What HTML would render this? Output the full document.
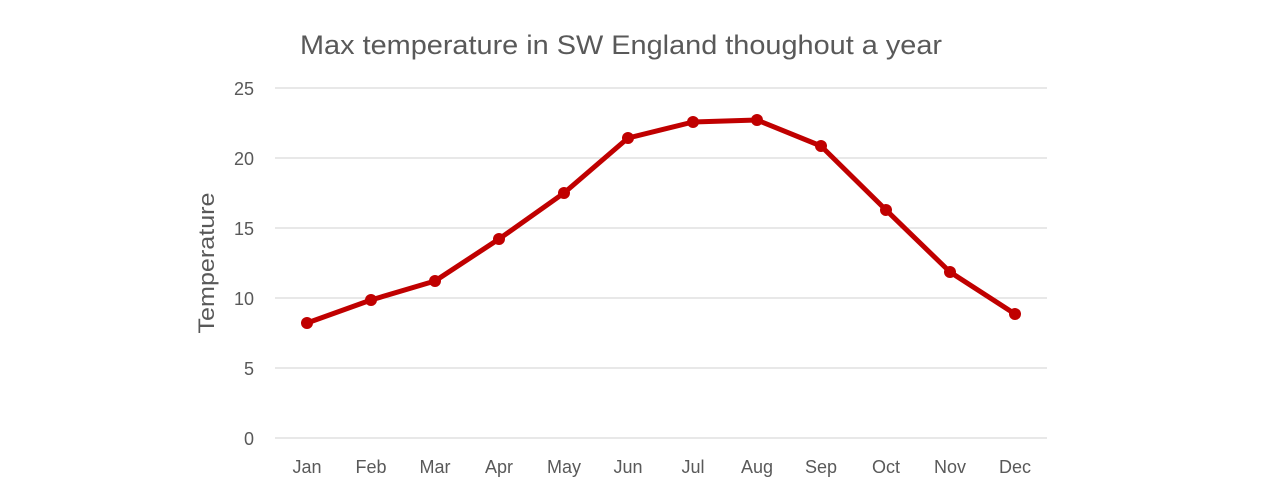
<!DOCTYPE html>
<html><head><style>
html,body{margin:0;padding:0;background:#fff;}
svg{display:block;font-family:"Liberation Sans",sans-serif;}
</style></head><body>
<svg width="1280" height="488" viewBox="0 0 1280 488" xmlns="http://www.w3.org/2000/svg">
<rect width="1280" height="488" fill="#fff"/>
<text x="621" y="54" text-anchor="middle" font-size="27" textLength="642" lengthAdjust="spacingAndGlyphs" fill="#595959">Max temperature in SW England thoughout a year</text>
<g stroke="#d9d9d9" stroke-width="1.3">
<line x1="275" x2="1047" y1="88" y2="88"/>
<line x1="275" x2="1047" y1="158" y2="158"/>
<line x1="275" x2="1047" y1="228" y2="228"/>
<line x1="275" x2="1047" y1="298" y2="298"/>
<line x1="275" x2="1047" y1="368" y2="368"/>
<line x1="275" x2="1047" y1="438" y2="438"/>
</g>
<g font-size="18" fill="#595959" text-anchor="end">
<text x="254" y="95">25</text>
<text x="254" y="165">20</text>
<text x="254" y="235">15</text>
<text x="254" y="305">10</text>
<text x="254" y="375">5</text>
<text x="254" y="445">0</text>
</g>
<text transform="translate(214,263) rotate(-90)" text-anchor="middle" font-size="22" textLength="141" lengthAdjust="spacingAndGlyphs" fill="#595959">Temperature</text>
<g font-size="18" fill="#595959" text-anchor="middle">
<text x="307" y="473">Jan</text><text x="371" y="473">Feb</text><text x="435" y="473">Mar</text>
<text x="499" y="473">Apr</text><text x="564" y="473">May</text><text x="628" y="473">Jun</text>
<text x="693" y="473">Jul</text><text x="757" y="473">Aug</text><text x="821" y="473">Sep</text>
<text x="886" y="473">Oct</text><text x="950" y="473">Nov</text><text x="1015" y="473">Dec</text>
</g>
<polyline fill="none" stroke="#c00000" stroke-width="5" stroke-linejoin="round" points="307,323 371,300 435,281 499,239 564,193 628,138 693,122 757,120 821,146 886,210 950,272 1015,314"/>
<g fill="#c00000">
<circle cx="307" cy="323" r="6"/><circle cx="371" cy="300" r="6"/><circle cx="435" cy="281" r="6"/>
<circle cx="499" cy="239" r="6"/><circle cx="564" cy="193" r="6"/><circle cx="628" cy="138" r="6"/>
<circle cx="693" cy="122" r="6"/><circle cx="757" cy="120" r="6"/><circle cx="821" cy="146" r="6"/>
<circle cx="886" cy="210" r="6"/><circle cx="950" cy="272" r="6"/><circle cx="1015" cy="314" r="6"/>
</g>
</svg>
</body></html>
